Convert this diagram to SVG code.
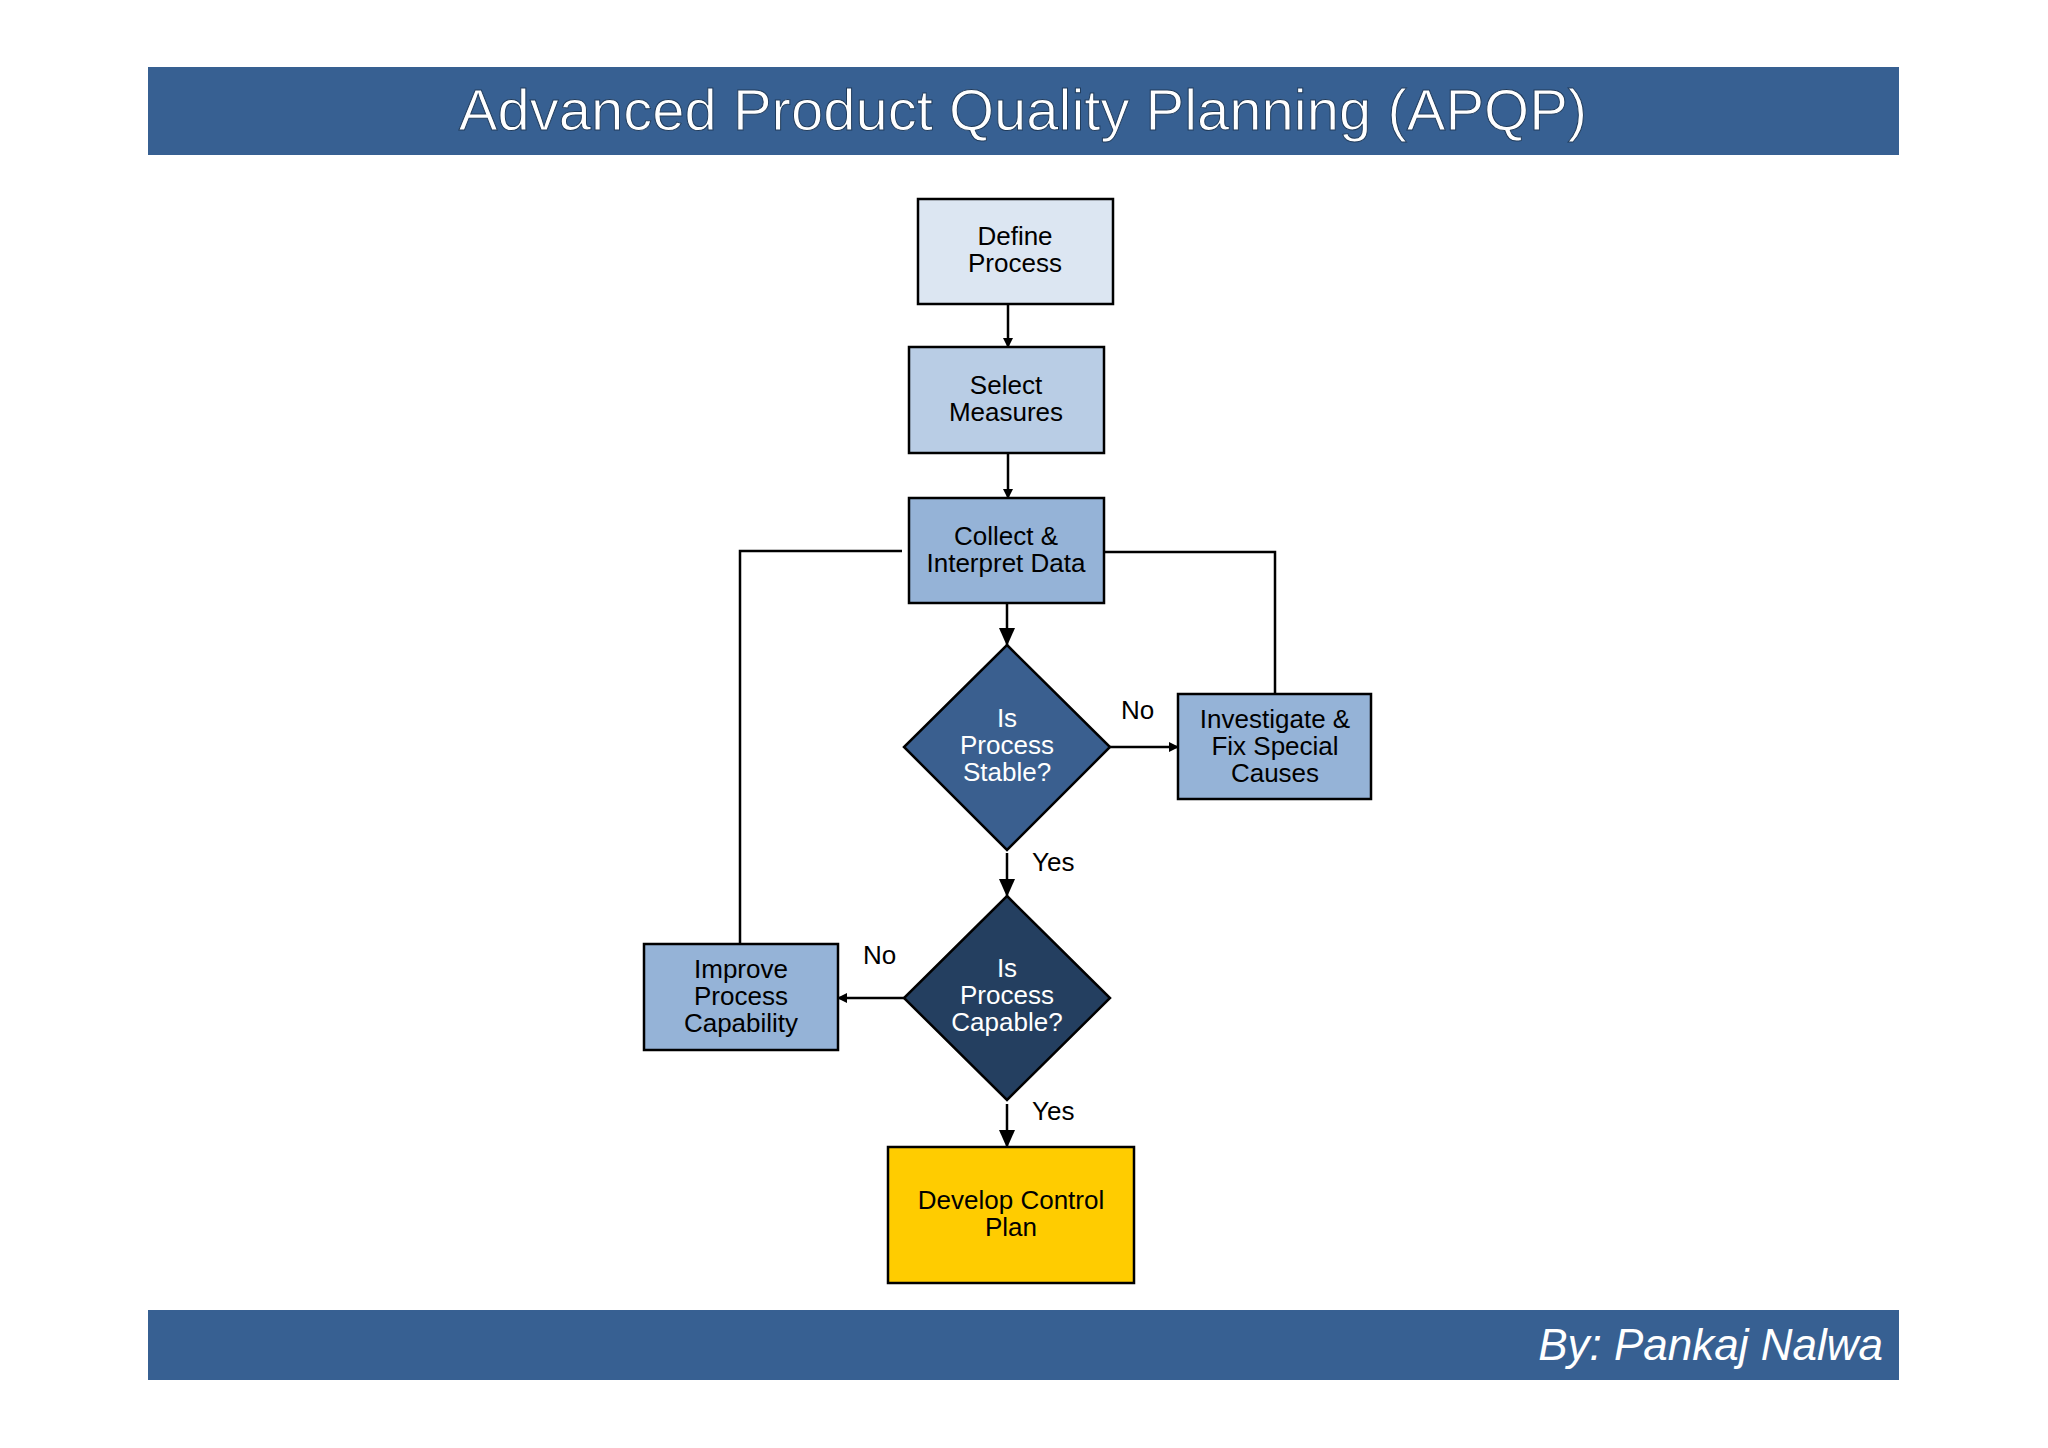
<svg xmlns="http://www.w3.org/2000/svg" width="2048" height="1448" viewBox="0 0 2048 1448">
<defs>
<marker id="ah" markerWidth="10" markerHeight="10" refX="9" refY="5" orient="auto" markerUnits="userSpaceOnUse"><path d="M0,0 L10,5 L0,10 z" fill="#000"/></marker>
<marker id="ahb" markerWidth="18" markerHeight="16" refX="17" refY="8" orient="auto" markerUnits="userSpaceOnUse"><path d="M0,0 L18,8 L0,16 z" fill="#000"/></marker>
</defs>
<style>
.n{stroke:#000;stroke-width:2.5}
.t{font-family:"Liberation Sans",Arial,sans-serif;font-size:26px;text-anchor:middle;fill:#000}
.w{fill:#fff}
.c{fill:none;stroke:#000;stroke-width:2.5}
.l{font-family:"Liberation Sans",Arial,sans-serif;font-size:26px;fill:#000}
</style>
<rect width="2048" height="1448" fill="#fff"/>
<g id="header"><rect x="148" y="67" width="1751" height="88" fill="#376092"/>
<text x="1023" y="130" font-family="Liberation Sans,Arial,sans-serif" font-size="58" fill="#fff" stroke="#1f3a5a" stroke-width="1" text-anchor="middle">Advanced Product Quality Planning (APQP)</text></g>
<g id="footer"><rect x="148" y="1310" width="1751" height="70" fill="#376092"/>
<text x="1883" y="1360" font-family="Liberation Sans,Arial,sans-serif" font-size="44" font-style="italic" fill="#fff" text-anchor="end">By: Pankaj Nalwa</text></g>
<g id="connectors">
<line class="c" x1="1008" y1="304" x2="1008" y2="347" marker-end="url(#ah)"/>
<line class="c" x1="1008" y1="453" x2="1008" y2="498" marker-end="url(#ah)"/>
<line class="c" x1="1007" y1="603" x2="1007" y2="645" marker-end="url(#ahb)"/>
<line class="c" x1="1110" y1="747" x2="1178" y2="747" marker-end="url(#ah)"/>
<polyline class="c" points="1275,693 1275,552 1104,552"/>
<line class="c" x1="1007" y1="853" x2="1007" y2="896" marker-end="url(#ahb)"/>
<line class="c" x1="904" y1="998" x2="838" y2="998" marker-end="url(#ah)"/>
<polyline class="c" points="740,944 740,551 902,551"/>
<line class="c" x1="1007" y1="1104" x2="1007" y2="1147" marker-end="url(#ahb)"/>
<text class="l" x="1121" y="719">No</text>
<text class="l" x="1032" y="871">Yes</text>
<text class="l" x="863" y="964">No</text>
<text class="l" x="1032" y="1120">Yes</text>
</g>
<g id="define"><rect class="n" x="918" y="199" width="195" height="105" fill="#dce6f2"/><text class="t" x="1015" y="245">Define</text><text class="t" x="1015" y="272">Process</text></g>
<g id="select"><rect class="n" x="909" y="347" width="195" height="106" fill="#b9cde5"/><text class="t" x="1006" y="394">Select</text><text class="t" x="1006" y="421">Measures</text></g>
<g id="collect"><rect class="n" x="909" y="498" width="195" height="105" fill="#95b3d7"/><text class="t" x="1006" y="545">Collect &amp;</text><text class="t" x="1006" y="572">Interpret Data</text></g>
<g id="stable"><polygon class="n" points="1007,645 1110,747 1007,850 904,747" fill="#3a5f8f"/><text class="t w" x="1007" y="727">Is</text><text class="t w" x="1007" y="754">Process</text><text class="t w" x="1007" y="781">Stable?</text></g>
<g id="investigate"><rect class="n" x="1178" y="694" width="193" height="105" fill="#95b3d7"/><text class="t" x="1275" y="728">Investigate &amp;</text><text class="t" x="1275" y="755">Fix Special</text><text class="t" x="1275" y="782">Causes</text></g>
<g id="capable"><polygon class="n" points="1007,896 1110,998 1007,1100 904,998" fill="#243f60"/><text class="t w" x="1007" y="977">Is</text><text class="t w" x="1007" y="1004">Process</text><text class="t w" x="1007" y="1031">Capable?</text></g>
<g id="improve"><rect class="n" x="644" y="944" width="194" height="106" fill="#95b3d7"/><text class="t" x="741" y="978">Improve</text><text class="t" x="741" y="1005">Process</text><text class="t" x="741" y="1032">Capability</text></g>
<g id="develop"><rect class="n" x="888" y="1147" width="246" height="136" fill="#ffcc00"/><text class="t" x="1011" y="1209">Develop Control</text><text class="t" x="1011" y="1236">Plan</text></g>
</svg>
